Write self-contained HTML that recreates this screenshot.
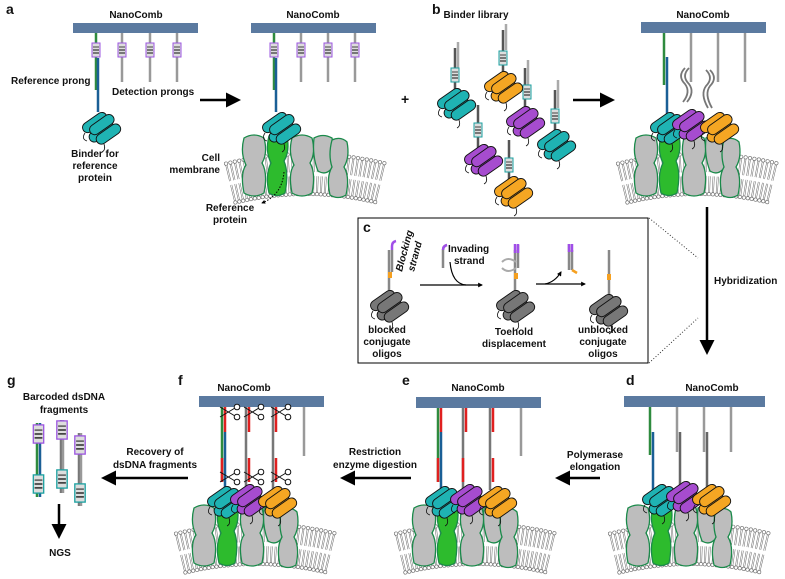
<!DOCTYPE html>
<html><head><meta charset="utf-8"><style>
html,body{margin:0;padding:0;background:#fff;}
svg{display:block;}
text{font-family:"Liberation Sans",Arial,sans-serif;font-weight:bold;font-size:10px;fill:#111;}
.L{font-size:14px;}
</style></head><body>
<svg width="785" height="579" viewBox="0 0 785 579" xmlns="http://www.w3.org/2000/svg">
<defs>
<g id="lp" fill="#fff" stroke="#666" stroke-width="0.6">
<circle cx="0" cy="0" r="1.7"/>
<path d="M-0.7,1.6 V18 M0.7,1.6 V18 M-0.7,22 V38.4 M0.7,22 V38.4" fill="none" stroke-width="0.5"/>
<circle cx="0" cy="40" r="1.7"/>
</g>
<g id="mem">
<g transform="translate(0,4)">
<use href="#lp" transform="translate(-80,9.6) rotate(-13.6)"/>
<use href="#lp" transform="translate(-75.6,8.6) rotate(-12.9)"/>
<use href="#lp" transform="translate(-71.2,7.6) rotate(-12.1)"/>
<use href="#lp" transform="translate(-66.8,6.7) rotate(-11.4)"/>
<use href="#lp" transform="translate(-62.4,5.8) rotate(-10.6)"/>
<use href="#lp" transform="translate(-58,5) rotate(-9.9)"/>
<use href="#lp" transform="translate(-53.6,4.3) rotate(-9.1)"/>
<use href="#lp" transform="translate(-49.2,3.6) rotate(-8.4)"/>
<use href="#lp" transform="translate(-44.8,3) rotate(-7.6)"/>
<use href="#lp" transform="translate(-40.4,2.4) rotate(-6.9)"/>
<use href="#lp" transform="translate(-36,1.9) rotate(-6.1)"/>
<use href="#lp" transform="translate(-31.6,1.5) rotate(-5.4)"/>
<use href="#lp" transform="translate(-27.2,1.1) rotate(-4.6)"/>
<use href="#lp" transform="translate(-22.8,0.8) rotate(-3.9)"/>
<use href="#lp" transform="translate(-18.4,0.5) rotate(-3.1)"/>
<use href="#lp" transform="translate(-14,0.3) rotate(-2.4)"/>
<use href="#lp" transform="translate(-9.6,0.1) rotate(-1.6)"/>
<use href="#lp" transform="translate(-5.2,0) rotate(-0.9)"/>
<use href="#lp" transform="translate(-0.8,0)"/>
<use href="#lp" transform="translate(3.6,0) rotate(0.6)"/>
<use href="#lp" transform="translate(8,0.1) rotate(1.4)"/>
<use href="#lp" transform="translate(12.4,0.2) rotate(2.1)"/>
<use href="#lp" transform="translate(16.8,0.4) rotate(2.9)"/>
<use href="#lp" transform="translate(21.2,0.7) rotate(3.6)"/>
<use href="#lp" transform="translate(25.6,1) rotate(4.4)"/>
<use href="#lp" transform="translate(30,1.4) rotate(5.1)"/>
<use href="#lp" transform="translate(34.4,1.8) rotate(5.8)"/>
<use href="#lp" transform="translate(38.8,2.3) rotate(6.6)"/>
<use href="#lp" transform="translate(43.2,2.8) rotate(7.3)"/>
<use href="#lp" transform="translate(47.6,3.4) rotate(8.1)"/>
<use href="#lp" transform="translate(52,4.1) rotate(8.8)"/>
<use href="#lp" transform="translate(56.4,4.8) rotate(9.6)"/>
<use href="#lp" transform="translate(60.8,5.5) rotate(10.3)"/>
<use href="#lp" transform="translate(65.2,6.4) rotate(11.1)"/>
<use href="#lp" transform="translate(69.6,7.3) rotate(11.8)"/>
<use href="#lp" transform="translate(74,8.2) rotate(12.6)"/>
<use href="#lp" transform="translate(78.4,9.2) rotate(13.3)"/>
</g>
<path d="M-62,-12 q10,-6 20,0 q4,15 -2,25 q6,10 2,30 q-10,6 -20,0 q-4,-20 2,-28 q-6,-12 -2,-27z" fill="#bdbdbd" stroke="#1a8a4a" stroke-width="1.3"/>
<path d="M-37,-14 q9,-4 18,0 q3,15 -3,25 q5,12 1,32 q-8,5 -16,0 q-4,-18 2,-30 q-6,-12 -2,-27z" fill="#2dbb2d" stroke="#1a8a4a" stroke-width="1.3"/>
<path d="M-14,-12 q10,-6 20,0 q4,15 -2,25 q6,10 2,30 q-10,6 -20,0 q-4,-20 2,-28 q-6,-12 -2,-27z" fill="#bdbdbd" stroke="#1a8a4a" stroke-width="1.3"/>
<path d="M8,-12 q9,-5 18,0 q3,10 0,30 q-6,8 -14,3 q-6,-15 -4,-33z" fill="#bdbdbd" stroke="#1a8a4a" stroke-width="1.3"/>
<path d="M26,-10 q9,-4 15,2 q3,15 -3,25 q6,10 2,28 q-8,5 -16,0 q-4,-18 2,-28 q-4,-12 0,-27z" fill="#bdbdbd" stroke="#1a8a4a" stroke-width="1.3"/>
</g>
<g id="bind" stroke="#111" stroke-width="0.8">
<g transform="scale(1.15) rotate(-35)">
<rect x="-13" y="-11" width="24" height="9" rx="4.5"/>
<rect x="-13" y="-1" width="24" height="9" rx="4.5"/>
<rect x="-9" y="-6" width="24" height="9" rx="4.5"/>
<rect x="-9" y="4" width="24" height="9" rx="4.5"/>
</g>
<path d="M-15,5 q-4,6 2,8 M4,16 q2,6 -2,8" fill="none"/>
</g>
<g id="bc">
<rect x="-4" y="-7" width="8" height="14" fill="#ddd" stroke="#9b55e0" stroke-width="1"/>
<line x1="-3" y1="-3" x2="3" y2="-3" stroke="#444"/><line x1="-3" y1="0" x2="3" y2="0" stroke="#111"/><line x1="-3" y1="3" x2="3" y2="3" stroke="#111"/>
</g>
<g id="bct">
<rect x="-4" y="-7" width="8" height="14" fill="#ddd" stroke="#1aa0a0" stroke-width="1"/>
<line x1="-3" y1="-3" x2="3" y2="-3" stroke="#444"/><line x1="-3" y1="0" x2="3" y2="0" stroke="#111"/><line x1="-3" y1="3" x2="3" y2="3" stroke="#111"/>
</g>
<g id="sc" fill="none" stroke="#111" stroke-width="1">
<path d="M-9,-5 L6,4 M-9,5 L6,-4"/><circle cx="8" cy="-5" r="2.8" fill="#fff"/><circle cx="8" cy="5" r="2.8" fill="#fff"/>
</g>
<marker id="ah" viewBox="0 0 10 10" refX="8" refY="5" markerWidth="4" markerHeight="4" orient="auto"><path d="M0,0 L10,5 L0,10z" fill="#000"/></marker>
<marker id="as" viewBox="0 0 10 10" refX="8" refY="5" markerWidth="6" markerHeight="6" orient="auto"><path d="M0,0 L10,5 L0,10z" fill="#000"/></marker>
</defs>

<!-- Panel a -->
<text x="6" y="14" class="L">a</text>
<text x="136" y="18" text-anchor="middle">NanoComb</text>
<rect x="73" y="23" width="125" height="10" fill="#5b7aa0"/>
<g stroke-width="2.5">
<line x1="96" y1="33" x2="96" y2="90" stroke="#2e8b3e"/><line x1="98" y1="58" x2="98" y2="112" stroke="#1a5f96"/>
<line x1="122" y1="33" x2="122" y2="82" stroke="#999"/><line x1="150" y1="33" x2="150" y2="82" stroke="#999"/><line x1="177" y1="33" x2="177" y2="82" stroke="#999"/>
</g>
<use href="#bc" x="96" y="50"/><use href="#bc" x="122" y="50"/><use href="#bc" x="150" y="50"/><use href="#bc" x="177" y="50"/>
<use href="#bind" x="100" y="128" fill="#1fb3b3"/>
<text x="11" y="84">Reference prong</text>
<text x="112" y="95">Detection prongs</text>
<text x="95" y="157" text-anchor="middle">Binder for</text>
<text x="95" y="169" text-anchor="middle">reference</text>
<text x="95" y="181" text-anchor="middle">protein</text>
<line x1="200" y1="100" x2="238" y2="100" stroke="#000" stroke-width="2.5" marker-end="url(#as)"/>

<text x="313" y="18" text-anchor="middle">NanoComb</text>
<rect x="251" y="23" width="125" height="10" fill="#5b7aa0"/>
<g stroke-width="2.5">
<line x1="274" y1="33" x2="274" y2="90" stroke="#2e8b3e"/><line x1="276" y1="58" x2="276" y2="112" stroke="#1a5f96"/>
<line x1="301" y1="33" x2="301" y2="82" stroke="#999"/><line x1="328" y1="33" x2="328" y2="82" stroke="#999"/><line x1="355" y1="33" x2="355" y2="82" stroke="#999"/>
</g>
<use href="#bc" x="274" y="50"/><use href="#bc" x="301" y="50"/><use href="#bc" x="328" y="50"/><use href="#bc" x="355" y="50"/>
<use href="#mem" x="306" y="150"/>
<use href="#bind" x="280" y="128" fill="#1fb3b3"/>
<text x="220" y="161" text-anchor="end">Cell</text>
<text x="220" y="173" text-anchor="end">membrane</text>
<path d="M284,172 Q282,195 262,203" fill="none" stroke="#000" stroke-dasharray="1.5,1.5" marker-end="url(#ah)"/>
<text x="230" y="211" text-anchor="middle">Reference</text>
<text x="230" y="223" text-anchor="middle">protein</text>

<!-- Panel b -->
<text x="432" y="14" class="L">b</text>
<text x="476" y="18" text-anchor="middle">Binder library</text>
<text x="401" y="104" class="L">+</text>
<g stroke-width="2.5">
<line x1="455" y1="48" x2="455" y2="92" stroke="#555"/><line x1="458" y1="42" x2="458" y2="70" stroke="#aaa"/>
<line x1="503" y1="30" x2="503" y2="78" stroke="#555"/><line x1="506" y1="24" x2="506" y2="50" stroke="#aaa"/>
<line x1="525" y1="68" x2="525" y2="112" stroke="#555"/><line x1="528" y1="60" x2="528" y2="88" stroke="#aaa"/>
<line x1="555" y1="90" x2="555" y2="132" stroke="#555"/><line x1="558" y1="80" x2="558" y2="108" stroke="#aaa"/>
<line x1="478" y1="105" x2="478" y2="152" stroke="#555"/>
<line x1="509" y1="140" x2="509" y2="182" stroke="#555"/>
</g>
<use href="#bct" x="455" y="75"/><use href="#bct" x="503" y="58"/><use href="#bct" x="527" y="92"/><use href="#bct" x="555" y="116"/><use href="#bct" x="478" y="130"/><use href="#bct" x="509" y="165"/>
<use href="#bind" x="455" y="104" fill="#1fb3b3"/>
<use href="#bind" x="502" y="87" fill="#f5a623"/>
<use href="#bind" x="524" y="122" fill="#a64ccf"/>
<use href="#bind" x="555" y="145" fill="#1fb3b3"/>
<use href="#bind" x="482" y="160" fill="#a64ccf"/>
<use href="#bind" x="512" y="192" fill="#f5a623"/>
<line x1="573" y1="100" x2="612" y2="100" stroke="#000" stroke-width="2.5" marker-end="url(#as)"/>

<text x="703" y="18" text-anchor="middle">NanoComb</text>
<rect x="641" y="22" width="125" height="11" fill="#5b7aa0"/>
<g stroke-width="2.5" fill="none">
<line x1="664" y1="33" x2="664" y2="85" stroke="#2e8b3e"/><line x1="667" y1="57" x2="667" y2="115" stroke="#1a5f96"/>
<line x1="691" y1="33" x2="691" y2="82" stroke="#999"/><line x1="718" y1="33" x2="718" y2="82" stroke="#999"/><line x1="745" y1="33" x2="745" y2="82" stroke="#999"/>
<path d="M685,68 q-8,8 0,16 q6,8 -2,18 M689,68 q-8,8 0,16 q6,8 -2,18" stroke="#777" stroke-width="1.8"/>
<path d="M706,70 q8,8 0,16 q-6,8 2,22 M710,70 q8,8 0,16 q-6,8 2,22" stroke="#777" stroke-width="1.8"/>
</g>
<use href="#mem" x="698" y="150"/>
<use href="#bind" x="668" y="128" fill="#1fb3b3"/>
<use href="#bind" x="690" y="125" fill="#a64ccf"/>
<use href="#bind" x="718" y="128" fill="#f5a623"/>

<!-- Hybridization -->
<line x1="707" y1="207" x2="707" y2="352" stroke="#000" stroke-width="2.5" marker-end="url(#as)"/>
<text x="714" y="284">Hybridization</text>
<line x1="649" y1="218" x2="698" y2="258" stroke="#333" stroke-dasharray="1,2"/>
<line x1="649" y1="363" x2="698" y2="318" stroke="#333" stroke-dasharray="1,2"/>

<!-- Panel c -->
<rect x="358" y="218" width="290" height="145" fill="#fff" stroke="#000" stroke-width="1"/>
<text x="363" y="232" class="L">c</text>
<g stroke-width="2.5" fill="none">
<line x1="389" y1="250" x2="389" y2="292" stroke="#888"/><line x1="392" y1="250" x2="392" y2="272" stroke="#888"/>
<line x1="390" y1="272" x2="390" y2="278" stroke="#f5a020" stroke-width="4"/>
<path d="M392,250 L392,246 q0,-4 4,-5" stroke="#a04ee8"/>
<path d="M443,268 L443,250 q0,-4 4,-5" stroke="#888"/><path d="M443,250 q0,-4 4,-5" stroke="#a04ee8"/>
<line x1="515" y1="250" x2="515" y2="292" stroke="#888"/><line x1="518" y1="245" x2="518" y2="268" stroke="#888"/>
<line x1="516" y1="273" x2="516" y2="279" stroke="#f5a020" stroke-width="4"/>
<line x1="515" y1="244" x2="515" y2="253" stroke="#a04ee8"/><line x1="518" y1="244" x2="518" y2="253" stroke="#a04ee8"/>
<path d="M502,262 q6,-6 14,0 M502,268 q6,6 14,0" stroke="#aaa" stroke-width="2"/>
<line x1="569" y1="244" x2="569" y2="270" stroke="#888"/><line x1="572" y1="250" x2="572" y2="270" stroke="#888"/>
<line x1="569" y1="244" x2="569" y2="252" stroke="#a04ee8"/><line x1="572" y1="244" x2="572" y2="252" stroke="#a04ee8"/>
<path d="M572,270 l5,3" stroke="#f5a020"/>
<line x1="609" y1="250" x2="609" y2="295" stroke="#888"/>
<line x1="609" y1="274" x2="609" y2="280" stroke="#f5a020" stroke-width="4"/>
</g>
<use href="#bind" x="388" y="306" fill="#777"/>
<use href="#bind" x="514" y="306" fill="#777"/>
<use href="#bind" x="607" y="310" fill="#777"/>
<text transform="translate(402,272) rotate(-75)" font-style="italic">Blocking</text>
<text transform="translate(414,272) rotate(-75)" font-style="italic">strand</text>
<text x="448" y="252">Invading</text>
<text x="454" y="264">strand</text>
<line x1="420" y1="285" x2="482" y2="285" stroke="#000" stroke-width="1.2" marker-end="url(#ah)"/>
<path d="M450,262 q2,22 16,23" fill="none" stroke="#000" stroke-width="1.2"/>
<line x1="536" y1="284" x2="585" y2="284" stroke="#000" stroke-width="1.2" marker-end="url(#ah)"/>
<path d="M545,284 q10,-2 16,-12" fill="none" stroke="#000" stroke-width="1.2" marker-end="url(#ah)"/>
<text x="387" y="333" text-anchor="middle">blocked</text>
<text x="387" y="345" text-anchor="middle">conjugate</text>
<text x="387" y="357" text-anchor="middle">oligos</text>
<text x="514" y="335" text-anchor="middle">Toehold</text>
<text x="514" y="347" text-anchor="middle">displacement</text>
<text x="603" y="333" text-anchor="middle">unblocked</text>
<text x="603" y="345" text-anchor="middle">conjugate</text>
<text x="603" y="357" text-anchor="middle">oligos</text>

<!-- Panel d -->
<text x="626" y="385" class="L">d</text>
<text x="712" y="391" text-anchor="middle">NanoComb</text>
<rect x="624" y="396" width="141" height="11" fill="#5b7aa0"/>
<g stroke-width="2.5">
<line x1="650" y1="407" x2="650" y2="455" stroke="#2e8b3e"/><line x1="653" y1="432" x2="653" y2="500" stroke="#1a5f96"/>
<line x1="677" y1="407" x2="677" y2="452" stroke="#999"/><line x1="680" y1="432" x2="680" y2="500" stroke="#666"/>
<line x1="704" y1="407" x2="704" y2="452" stroke="#999"/><line x1="707" y1="432" x2="707" y2="500" stroke="#666"/>
<line x1="731" y1="407" x2="731" y2="452" stroke="#999"/>
</g>
<use href="#mem" x="690" y="520"/>
<use href="#bind" x="660" y="500" fill="#1fb3b3"/>
<use href="#bind" x="684" y="497" fill="#a64ccf"/>
<use href="#bind" x="710" y="500" fill="#f5a623"/>
<text x="595" y="458" text-anchor="middle">Polymerase</text>
<text x="595" y="470" text-anchor="middle">elongation</text>
<line x1="600" y1="478" x2="558" y2="478" stroke="#000" stroke-width="2.5" marker-end="url(#as)"/>

<!-- Panel e -->
<text x="402" y="385" class="L">e</text>
<text x="478" y="391" text-anchor="middle">NanoComb</text>
<rect x="416" y="397" width="125" height="11" fill="#5b7aa0"/>
<g stroke-width="2.5">
<line x1="438" y1="408" x2="438" y2="482" stroke="#2e8b3e"/><line x1="441" y1="408" x2="441" y2="432" stroke="#e02020"/><line x1="441" y1="432" x2="441" y2="490" stroke="#1a5f96"/><line x1="438" y1="458" x2="438" y2="482" stroke="#e02020"/>
<line x1="463" y1="408" x2="463" y2="490" stroke="#777"/><line x1="466" y1="408" x2="466" y2="432" stroke="#e02020"/><line x1="463" y1="458" x2="463" y2="482" stroke="#e02020"/>
<line x1="490" y1="408" x2="490" y2="490" stroke="#777"/><line x1="493" y1="408" x2="493" y2="432" stroke="#e02020"/><line x1="493" y1="458" x2="493" y2="482" stroke="#e02020"/>
<line x1="521" y1="408" x2="521" y2="456" stroke="#999"/>
</g>
<use href="#mem" x="476" y="520"/>
<use href="#bind" x="443" y="502" fill="#1fb3b3"/>
<use href="#bind" x="468" y="500" fill="#a64ccf"/>
<use href="#bind" x="496" y="502" fill="#f5a623"/>
<text x="375" y="455" text-anchor="middle">Restriction</text>
<text x="375" y="468" text-anchor="middle">enzyme digestion</text>
<line x1="411" y1="478" x2="343" y2="478" stroke="#000" stroke-width="2.5" marker-end="url(#as)"/>

<!-- Panel f -->
<text x="178" y="385" class="L">f</text>
<text x="244" y="391" text-anchor="middle">NanoComb</text>
<rect x="199" y="396" width="125" height="11" fill="#5b7aa0"/>
<g stroke-width="2.5">
<line x1="222" y1="407" x2="222" y2="482" stroke="#2e8b3e"/><line x1="225" y1="407" x2="225" y2="432" stroke="#e02020"/><line x1="225" y1="432" x2="225" y2="490" stroke="#1a5f96"/><line x1="222" y1="458" x2="222" y2="482" stroke="#e02020"/>
<line x1="246" y1="407" x2="246" y2="490" stroke="#777"/><line x1="249" y1="407" x2="249" y2="432" stroke="#e02020"/><line x1="249" y1="458" x2="249" y2="482" stroke="#e02020"/>
<line x1="273" y1="407" x2="273" y2="490" stroke="#777"/><line x1="276" y1="407" x2="276" y2="432" stroke="#e02020"/><line x1="276" y1="458" x2="276" y2="482" stroke="#e02020"/>
<line x1="304" y1="407" x2="304" y2="456" stroke="#999"/>
</g>
<use href="#sc" x="229" y="412"/><use href="#sc" x="253" y="412"/><use href="#sc" x="280" y="412"/>
<use href="#sc" x="229" y="477"/><use href="#sc" x="253" y="477"/><use href="#sc" x="280" y="477"/>
<use href="#mem" x="256" y="520"/>
<use href="#bind" x="225" y="502" fill="#1fb3b3"/>
<use href="#bind" x="248" y="500" fill="#a64ccf"/>
<use href="#bind" x="276" y="502" fill="#f5a623"/>
<text x="155" y="455" text-anchor="middle">Recovery of</text>
<text x="155" y="468" text-anchor="middle">dsDNA  fragments</text>
<line x1="188" y1="478" x2="104" y2="478" stroke="#000" stroke-width="2.5" marker-end="url(#as)"/>

<!-- Panel g -->
<text x="7" y="385" class="L">g</text>
<text x="64" y="400" text-anchor="middle">Barcoded dsDNA</text>
<text x="64" y="413" text-anchor="middle">fragments</text>
<g stroke-width="2.5">
<line x1="37" y1="423" x2="37" y2="497" stroke="#2e8b3e"/><line x1="40" y1="423" x2="40" y2="497" stroke="#1a5f96"/>
<line x1="61" y1="420" x2="61" y2="493" stroke="#777"/><line x1="63" y1="420" x2="63" y2="493" stroke="#999"/>
<line x1="79" y1="433" x2="79" y2="506" stroke="#777"/><line x1="81" y1="433" x2="81" y2="506" stroke="#999"/>
</g>
<g transform="translate(38.5,434) scale(1.3)"><use href="#bc"/></g>
<g transform="translate(38.5,484) scale(1.3)"><use href="#bct"/></g>
<g transform="translate(62,430) scale(1.3)"><use href="#bc"/></g>
<g transform="translate(62,479) scale(1.3)"><use href="#bct"/></g>
<g transform="translate(80,445) scale(1.3)"><use href="#bc"/></g>
<g transform="translate(80,493) scale(1.3)"><use href="#bct"/></g>
<line x1="59" y1="504" x2="59" y2="536" stroke="#000" stroke-width="2.5" marker-end="url(#as)"/>
<text x="60" y="556" text-anchor="middle">NGS</text>
</svg>
</body></html>
